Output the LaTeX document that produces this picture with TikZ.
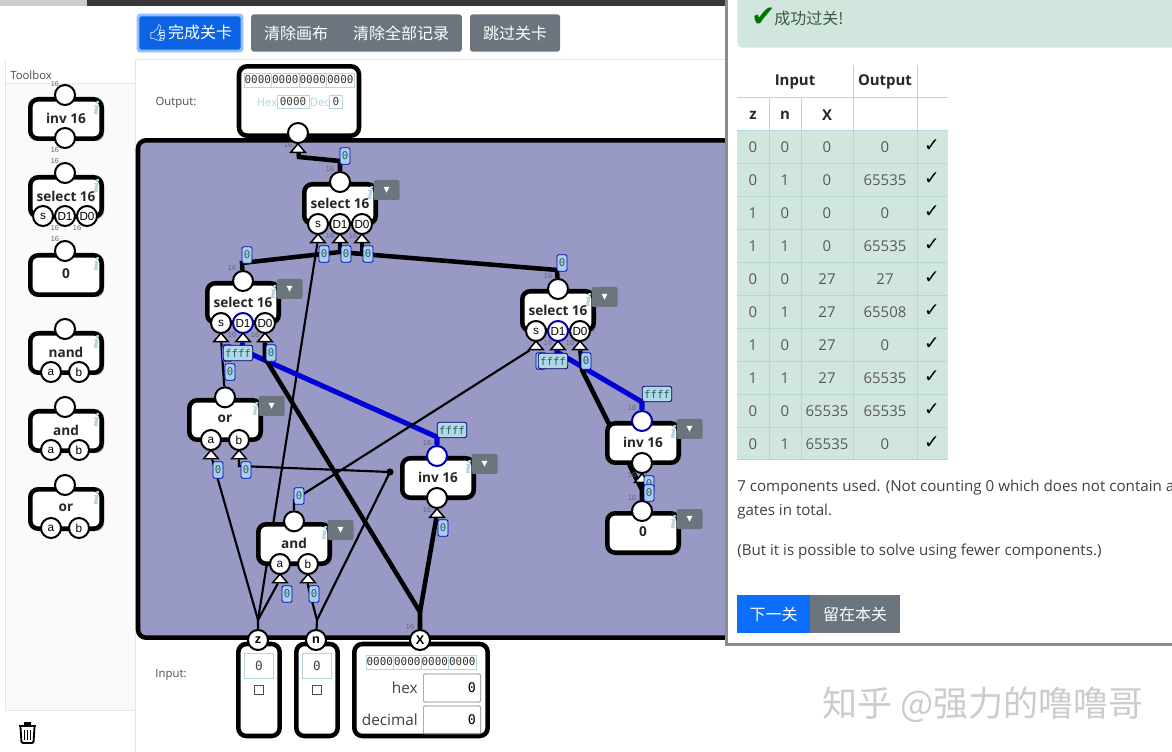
\documentclass[tikz,border=0pt]{standalone}
\usepackage{fontspec}
\usepackage{tikz}
\usetikzlibrary{shapes,shadows}
\setmainfont{Open Sans}
\setmonofont{DejaVu Sans Mono}
\newfontfamily\cjk{Noto Sans CJK SC}
\newfontfamily\symfont{DejaVu Sans}
\newfontfamily\emojifont{Noto Emoji}
\newfontfamily\pinfont{Liberation Sans}
\newfontfamily\infofont{DejaVu Serif}
\definecolor{canvasblue}{RGB}{153,153,198}
\definecolor{btnblue}{RGB}{13,110,253}
\definecolor{btngray}{RGB}{108,117,125}
\definecolor{rowgreen}{RGB}{209,231,221}
\definecolor{gridblue}{RGB}{182,214,222}
\definecolor{hotblue}{RGB}{0,0,214}
\definecolor{valblue}{RGB}{168,206,240}
\definecolor{hotval}{RGB}{176,216,232}
\definecolor{valtext}{RGB}{40,100,80}
\definecolor{oktext}{RGB}{60,90,70}
\pgfdeclarelayer{canvas}
\pgfdeclarelayer{wires}
\pgfsetlayers{canvas,wires,main}
\tikzset{
    gatebody/.style={draw=black, line width=3.4pt, fill=white, rounded corners=6pt, minimum width=53.6pt, minimum height=29.6pt, inner sep=0pt, drop shadow={shadow xshift=1.8pt, shadow yshift=-1.8pt, opacity=0.6}},
    gatetext/.style={font=\fontsize{10.2}{12}\selectfont\bfseries, text=black!85, inner sep=0pt, yshift=0.8pt},
    infoi/.style={font=\infofont\fontsize{13}{13}\selectfont\itshape\bfseries, text=gridblue, inner sep=0pt},
    menubtn/.style={fill=btngray, rounded corners=1.5pt, minimum width=19.5pt, minimum height=15pt, inner sep=0pt, text=white, font=\symfont\fontsize{9}{9}\selectfont},
    port/.style={circle, draw=black, line width=1.5pt, fill=white, minimum size=15pt, inner sep=0pt, font=\pinfont\fontsize{8.8}{9}\selectfont},
    hotport/.style={port, draw=hotblue!80!black},
    tri/.style={isosceles triangle, isosceles triangle stretches, shape border rotate=90, draw=black, line width=1.1pt, fill=white, minimum width=11pt, minimum height=6.5pt, inner sep=0pt},
    bus/.style={draw=black, line width=3.4pt},
    thinwire/.style={draw=black, line width=1.6pt},
    hotwire/.style={draw=hotblue, line width=3.8pt},
    vallab/.style={draw=blue!70!black, line width=0.6pt, fill=valblue, rounded corners=1.5pt, inner sep=0pt, minimum width=7.5pt, minimum height=12.5pt, text=valtext, font=\ttfamily\fontsize{8}{9}\selectfont},
    hotlab/.style={vallab, draw=blue!40!black, fill=hotval, minimum width=22pt, minimum height=11.5pt},
    widlab/.style={font=\pinfont\fontsize{5.5}{6}\selectfont, text=black!60, inner sep=0pt},
    field/.style={draw=gridblue, line width=0.5pt, fill=white, inner sep=0pt, font=\ttfamily\fontsize{9.5}{11}\selectfont, text=black!75},
    binfield/.style={draw=gridblue, line width=0.5pt, inner sep=0pt, minimum width=20.6pt, minimum height=10.5pt, font=\ttfamily\fontsize{8.2}{10}\selectfont, text=black!80},
    inbox/.style={draw=black, line width=3.4pt, fill=white, rounded corners=6pt, inner sep=0pt},
    hint/.style={font=\fontsize{8.5}{10}\selectfont, text=black!70, inner sep=0pt},
    graybtn/.style={fill=btngray, rounded corners=2pt, inner sep=0pt, text=white, font=\cjk\fontsize{12}{14}\selectfont},
    bluebtn/.style={graybtn, fill=btnblue},
    cellnum/.style={font=\fontsize{11.2}{13}\selectfont, text=black!65, inner sep=0pt},
    cellhead/.style={font=\fontsize{11.2}{13}\selectfont\bfseries, text=black!85, inner sep=0pt},
    para/.style={font=\fontsize{11.35}{14}\selectfont, text=black!75, inner sep=0pt, anchor=west}
}
% name, x, y, text
\newcommand{\gate}[4]{ \node[gatebody] (#1) at (#2,#3) {}; \node[gatetext] (#1t) at (#1) {#4}; \node[infoi] (#1i) at (#1.north east) [xshift=-5.5pt, yshift=-8.5pt] {i}; \node[menubtn] (#1m) at (#1.east) [xshift=6.5pt, yshift=10.5pt] {▾}; }
% name, x, y, style of D1
\newcommand{\selgate}[4]{ \gate{#1}{#2}{#3}{select 16}
    \node[port] (#1o) at (#2,#3) [yshift=16.5pt] {};
    \node[port] (#1s) at (#2,#3) [xshift=-16.5pt, yshift=-15pt] {s};
    \node[#4] (#1a) at (#2,#3) [yshift=-15pt] {D1};
    \node[port] (#1b) at (#2,#3) [xshift=16.5pt, yshift=-15pt] {D0};
    \node[tri] (#1st) at (#2,#3) [xshift=-16.5pt, yshift=-26.5pt] {};
    \node[tri] (#1at) at (#2,#3) [yshift=-26.5pt] {};
    \node[tri] (#1bt) at (#2,#3) [xshift=16.5pt, yshift=-26.5pt] {}; }
% name, x, y, text
\newcommand{\twogate}[4]{ \gate{#1}{#2}{#3}{#4}
    \node[port] (#1o) at (#2,#3) [yshift=17pt] {};
    \node[port] (#1a) at (#2,#3) [xshift=-10.5pt, yshift=-15pt] {a};
    \node[port] (#1b) at (#2,#3) [xshift=10.5pt, yshift=-15pt] {b};
    \node[tri] (#1at) at (#2,#3) [xshift=-10.5pt, yshift=-26.5pt] {};
    \node[tri] (#1bt) at (#2,#3) [xshift=10.5pt, yshift=-26.5pt] {}; }
% name, y, text
\newcommand{\toolgate}[3]{ \node[gatebody] (#1) at (66,#2) {}; \node[gatetext] (#1t) at (#1) {#3}; \node[infoi] (#1i) at (#1.north east) [xshift=-5.5pt, yshift=-8.5pt] {i}; }
% name, x, y
\newcommand{\binrow}[3]{ \foreach \k in {0,1,2,3} { \node[binfield] (#1\k) at (#2-41.25+27.5*\k,#3) {0000}; } }

\begin{document}
\begin{tikzpicture}[x=0.75pt,y=-0.75pt]
        \useasboundingbox (0,0) rectangle (1172,752);
        \begin{pgfonlayer}{canvas}
        \fill[white] (0,0) rectangle (1172,752);
        \fill[black!20] (0,0) rectangle (87,6);
        \fill[black!78] (87,0) rectangle (725,6);
        \fill[black!2] (5,84) rectangle (135,710);
        \draw[black!10, line width=0.75pt] (135,60) -- (725,60);
        \draw[black!10, line width=0.75pt] (135,60) -- (135,752);
        \draw[black!10, line width=0.75pt] (5,60) -- (5,710) -- (135,710);
        \draw[black!10, line width=0.75pt] (5,84) -- (135,84);
        \node[draw=black, line width=3.4pt, fill=canvasblue, rounded corners=6pt, minimum width=450pt, minimum height=373pt, inner sep=0pt] (board) at (438,389) {};
        \end{pgfonlayer}

        % top buttons
        \node[bluebtn, draw=btnblue!45, line width=2.2pt, fill=btnblue!90!black, minimum width=78pt, minimum height=27pt] (finish) at (190,33) {\emojifont 👍\cjk 完成关卡};
        \node[graybtn, minimum width=158pt, minimum height=28pt] (clearbar) at (356.5,33) {};
        \node[graybtn, fill=none] (clearA) at (296,33) {清除画布};
        \node[graybtn, fill=none] (clearB) at (401,33) {清除全部记录};
        \node[graybtn, minimum width=67.5pt, minimum height=28pt] (skip) at (515,33) {跳过关卡};

        % toolbox
        \node[hint, anchor=west] (toolboxt) at (10,75) {Toolbox};
        \toolgate{invT}{119}{inv 16}
        \toolgate{selT}{197}{select 16}
        \toolgate{zeroT}{275}{0}
        \toolgate{nandT}{353}{nand}
        \toolgate{andT}{431}{and}
        \toolgate{orT}{509}{or}
        \node[port] (invTo) at (65,95) {};
        \node[port] (invTi) at (65,138) {};
        \node[port] (selTo) at (65,173) {};
        \node[port] (selTs) at (43,216) {s};
        \node[port] (selTa) at (65,216) {D1};
        \node[port] (selTb) at (87,216) {D0};
        \node[port] (zeroTo) at (65,251) {};
        \node[port] (nandTo) at (65,329) {};
        \node[port] (nandTa) at (51,372) {a};
        \node[port] (nandTb) at (79,372) {b};
        \node[port] (andTo) at (65,407) {};
        \node[port] (andTa) at (51,450) {a};
        \node[port] (andTb) at (79,450) {b};
        \node[port] (orTo) at (65,485) {};
        \node[port] (orTa) at (51,528) {a};
        \node[port] (orTb) at (79,528) {b};
        % trash
        \fill[black] (19,725) rectangle (36,727);
        \fill[black] (24,722) rectangle (31,725);
        \draw[black, line width=1.4pt, rounded corners=1pt] (20.5,727) -- (21.5,743) -- (33.5,743) -- (34.5,727);
        \foreach \x in {24.5,27.5,30.5} {
            \draw[black, line width=1pt] (\x,730) -- (\x,740);
        }

        % output
        \node[hint] (outputt) at (176,103) {Output:};
        \node[inbox, minimum width=90pt, minimum height=52pt] (outbox) at (299,101) {};
        \binrow{outbin}{299}{80}
        \node[hint, text=gridblue] (hext) at (267,103) {Hex};
        \node[field, minimum width=24pt, minimum height=10pt, font=\ttfamily\fontsize{8.2}{10}\selectfont] (hexf) at (293,102) {0000};
        \node[hint, text=gridblue] (dect) at (320,103) {Dec};
        \node[field, minimum width=9.5pt, minimum height=10pt, font=\ttfamily\fontsize{8.2}{10}\selectfont] (decf) at (336,102) {0};
        \node[port] (outp) at (298,133) {};
        \node[tri] (outt) at (298,149) {};

        % gates
        \selgate{selA}{340}{204}{port}
        \selgate{selB}{243}{303}{hotport}
        \selgate{selC}{558}{311}{hotport}
        \twogate{orG}{225}{420}{or}
        \twogate{andG}{294}{544}{and}
        \gate{invM}{438}{478}{inv 16}
        \node[hotport] (invMo) at (437,456) {};
        \node[port] (invMi) at (437,498) {};
        \node[tri] (invMt) at (437,514) {};
        \gate{invR}{643}{443}{inv 16}
        \node[hotport] (invRo) at (642,421) {};
        \node[port] (invRi) at (642,463) {};
        \node[tri] (invRt) at (642,479) {};
        \gate{zeroG}{643}{533}{0}
        \node[port] (zeroGo) at (642,511) {};

        % inputs
        \node[hint] (inputt) at (171,675) {Input:};
        \node[inbox, minimum width=31pt, minimum height=69pt] (zbox) at (259,690) {};
        \node[inbox, minimum width=31pt, minimum height=69pt] (nbox) at (317,690) {};
        \node[inbox, minimum width=100pt, minimum height=69pt] (xbox) at (421,690) {};
        \node[port, font=\pinfont\bfseries\fontsize{9.5}{9}\selectfont] (zp) at (258,640) {z};
        \node[port, font=\pinfont\bfseries\fontsize{9.5}{9}\selectfont] (np) at (316,640) {n};
        \node[port, font=\pinfont\bfseries\fontsize{9.5}{9}\selectfont] (xp) at (420,640) {X};
        \node[field, minimum width=22pt, minimum height=19pt] (zf) at (259,666) {0};
        \node[field, minimum width=22pt, minimum height=19pt] (nf) at (317,666) {0};
        \node[draw=black!70, line width=0.6pt, minimum size=7pt, inner sep=0pt] (zc) at (259,690) {};
        \node[draw=black!70, line width=0.6pt, minimum size=7pt, inner sep=0pt] (nc) at (317,690) {};
        \binrow{xbin}{421}{662}
        \node[font=\fontsize{11.5}{13}\selectfont, text=black!75, inner sep=0pt, anchor=east] (hext2) at (418,688) {hex};
        \node[font=\fontsize{11.5}{13}\selectfont, text=black!75, inner sep=0pt, anchor=east] (dect2) at (418,720) {decimal};
        \node[draw=black!50, line width=0.5pt, rounded corners=1pt, minimum width=43pt, minimum height=21pt, inner sep=2pt, text depth=0pt, align=right] (hexin) at (452,688) {\hspace*{30pt}\ttfamily 0};
        \node[draw=black!50, line width=0.5pt, rounded corners=1pt, minimum width=43pt, minimum height=21pt, inner sep=2pt, text depth=0pt, align=right] (decin) at (452,720) {\hspace*{30pt}\ttfamily 0};

        % bends
        \coordinate (bendA) at (299,157);
        \coordinate (bendB) at (340,161);
        \coordinate (joinA) at (340,252);
        \coordinate (joinB) at (362,254);
        \coordinate (bendC) at (242,263);
        \coordinate (bendD) at (557,270);
        \coordinate (bendE) at (242,350);
        \coordinate (bendF) at (437,437);
        \coordinate (bendG) at (265,358);
        \coordinate (joinX) at (420,612);
        \coordinate (joinZ) at (258,620);
        \coordinate (joinN) at (317,620);
        \coordinate (joinD) at (390,472);
        \coordinate (bendH) at (239,466);
        \coordinate (bendI) at (294,500);
        \coordinate (bendJ) at (557,352);
        \coordinate (bendK) at (642,402);
        \coordinate (bendL) at (582,370);
        \coordinate (bendM) at (642,490);
        \coordinate (bendN) at (308,586);

        % wires
        \begin{pgfonlayer}{wires}
        \draw[bus] (outt) -- (bendA) -- (bendB) -- (selAo);
        \draw[bus] (selAat) -- (joinA);
        \draw[bus] (selAbt) -- (joinB);
        \draw[bus] (selBo) -- (bendC) -- (joinA) -- (joinB) -- (bendD) -- (selCo);
        \draw[thinwire] (selAst) -- (joinZ);
        \draw[thinwire] (selBst) -- (orGo);
        \draw[hotwire] (selBat) -- (bendE) -- (bendF) -- (invMo);
        \draw[bus] (selBbt) -- (bendG) -- (joinX) -- (xp);
        \draw[bus] (joinX) -- (invMt);
        \draw[thinwire] (orGat) -- (joinZ);
        \draw[thinwire] (orGbt) -- (bendH) -- (joinD);
        \draw[thinwire] (joinD) -- (joinN);
        \draw[thinwire] (andGo) -- (bendI) -- (selCst);
        \draw[thinwire] (andGat) -- (joinZ) -- (zp);
        \draw[thinwire] (andGbt) -- (bendN) -- (joinN) -- (np);
        \draw[hotwire] (selCat) -- (bendJ) -- (bendK) -- (invRo);
        \draw[bus] (selCbt) -- (bendL) -- (bendM) -- (zeroGo);
        \draw[bus] (invRt) -- (zeroGo);
        \fill[black] (joinD) circle (3.6);
        \end{pgfonlayer}

        % values
        \node[vallab] (v1) at (345,156) {0};
        \node[vallab] (v2) at (324,254) {0};
        \node[vallab] (v3) at (346,254) {0};
        \node[vallab] (v4) at (368,254) {0};
        \node[vallab] (v5) at (247,255) {0};
        \node[vallab] (v6) at (562,263) {0};
        \node[vallab] (v7) at (227,353) {0};
        \node[hotlab] (v8) at (238,353) {ffff};
        \node[vallab] (v9) at (271,353) {0};
        \node[vallab] (v10) at (230,372) {0};
        \node[vallab] (v11) at (218,470) {0};
        \node[vallab] (v12) at (246,470) {0};
        \node[vallab] (v13) at (299,496) {0};
        \node[hotlab] (v14) at (452,430) {ffff};
        \node[vallab] (v15) at (443,528) {0};
        \node[vallab] (v16) at (287,594) {0};
        \node[vallab] (v17) at (314,594) {0};
        \node[vallab] (v18) at (541,361) {0};
        \node[hotlab] (v19) at (553,361) {ffff};
        \node[vallab] (v20) at (586,361) {0};
        \node[hotlab] (v21) at (657,394) {ffff};
        \node[vallab] (v22) at (649,484) {0};
        \node[vallab] (v23) at (649,493) {0};

        % widths
        \foreach \x/\y [count=\i] in {55/84,55/150,55/161,55/228,77/228,55/239,288/145,330/169,330/236,353/236,232/268,232/335,255/335,427/443,427/510,548/276,548/343,570/343,632/408,632/475,632/498,410/627} {
            \node[widlab] (wd\i) at (\x,\y) {16};
        }

        % result panel
        \fill[black!45] (725,0) rectangle (728,646);
        \fill[black!45] (725,643) rectangle (1172,646);
        \fill[white] (728,0) rectangle (1172,643);
        \node[fill=rowgreen, rounded corners=4pt, minimum width=340pt, minimum height=42pt, inner sep=0pt, anchor=south west] (alert) at (737,48) {};
        \node[inner sep=0pt, text=green!45!black, font=\symfont\fontsize{22}{22}\selectfont] (okmark) at (764,17) {✔};
        \node[inner sep=0pt, text=oktext, font=\cjk\fontsize{12}{14}\selectfont, anchor=west] (okt) at (774,18) {成功过关!};

        % table
        \fill[rowgreen] (737,130) rectangle (948,459);
        \foreach \y in {97,130,163,196,229,262,295,328,361,394,427,459} {
            \draw[gridblue, line width=0.6pt] (737,\y) -- (948,\y);
        }
        \foreach \x in {769,801} {
            \draw[gridblue, line width=0.6pt] (\x,97) -- (\x,459);
        }
        \foreach \x in {853,917} {
            \draw[gridblue, line width=0.6pt] (\x,65) -- (\x,459);
        }
        \node[cellhead] (inhead) at (795,82) {Input};
        \node[cellhead] (outhead) at (885,82) {Output};
        \node[cellhead] (zhead) at (753,115) {z};
        \node[cellhead] (nhead) at (785,115) {n};
        \node[cellhead] (xhead) at (827,115) {X};
        \foreach \a/\b/\c/\d [count=\i] in {0/0/0/0,0/1/0/65535,1/0/0/0,1/1/0/65535,0/0/27/27,0/1/27/65508,1/0/27/0,1/1/27/65535,0/0/65535/65535,0/1/65535/0} {
            \node[cellnum] (ra\i) at (753,114+33*\i) {\a};
            \node[cellnum] (rb\i) at (785,114+33*\i) {\b};
            \node[cellnum] (rc\i) at (827,114+33*\i) {\c};
            \node[cellnum] (rd\i) at (885,114+33*\i) {\d};
            \node[cellnum, text=black, font=\symfont\fontsize{14}{14}\selectfont] (re\i) at (932,113+33*\i) {✓};
        }

        % notes
        \node[para] (noteA) at (737,488) {7 components used. (Not counting 0 which does not contain a};
        \node[para] (noteB) at (737,512) {gates in total.};
        \node[para] (noteC) at (737,552) {(But it is possible to solve using fewer components.)};
        \node[bluebtn, minimum width=55pt, minimum height=28pt, sharp corners] (nextb) at (773.5,614) {下一关};
        \node[graybtn, minimum width=67.5pt, minimum height=28pt, sharp corners] (stayb) at (855,614) {留在本关};
        \node[inner sep=0pt, text=black!20, font=\cjk\fontsize{26.3}{28}\selectfont, anchor=west] (mark) at (822,705) {知乎 @强力的噜噜哥};
\end{tikzpicture}
\end{document}
